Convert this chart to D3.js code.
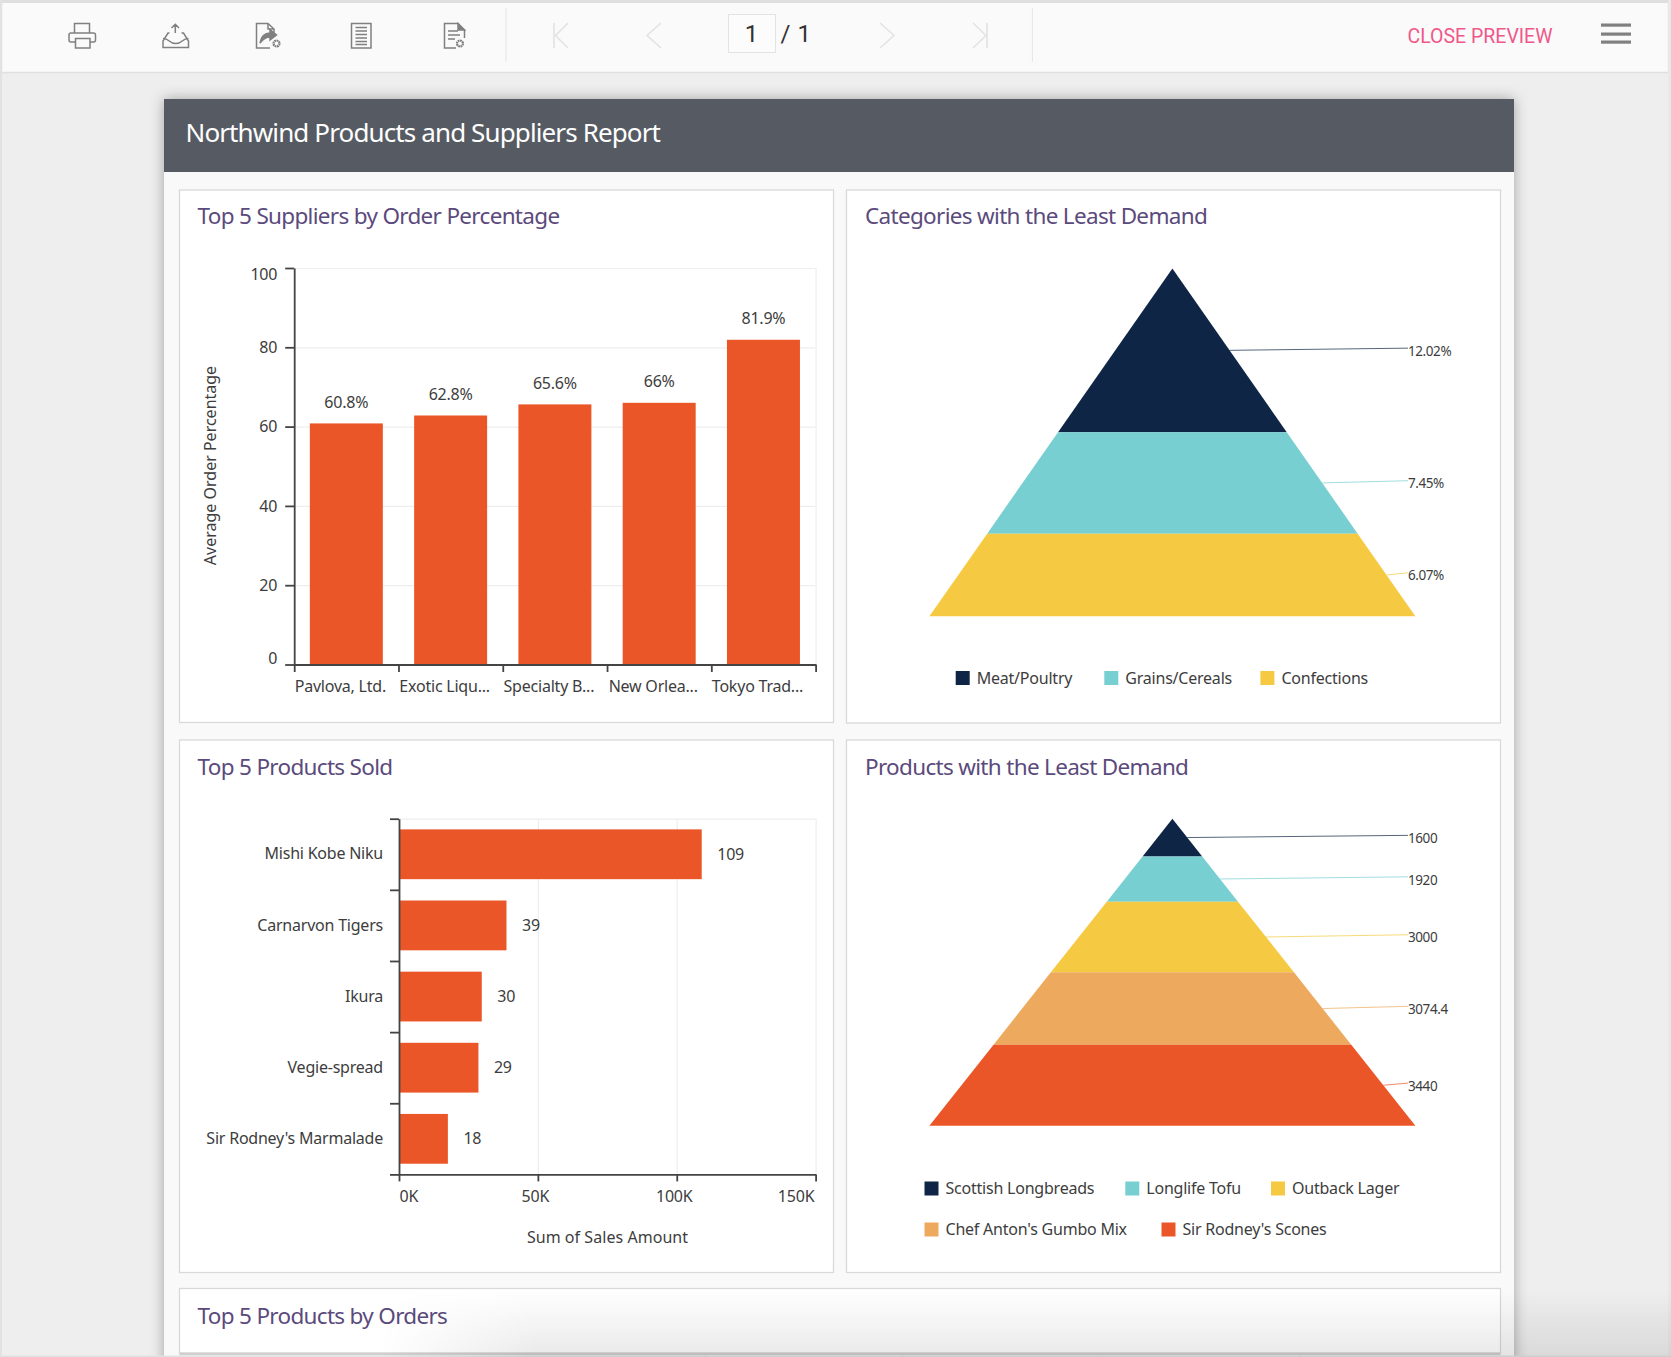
<!DOCTYPE html>
<html><head><meta charset="utf-8">
<script src="https://cdnjs.cloudflare.com/ajax/libs/d3/7.8.5/d3.min.js"></script>
<style>
html,body{margin:0;padding:0;background:#eeeeee;overflow:hidden}
svg{display:block}
text{font-family:"Noto Sans","Open Sans",sans-serif;fill:#3d3d3d}
.axis text{font-size:16px;letter-spacing:-.22px;fill:#3d3d3d}
.lbl{font-size:16px;letter-spacing:-.22px}
.ptitle{font-size:22.5px;letter-spacing:-.68px;fill:#5b4a7c}
.plabel{font-size:13.5px;letter-spacing:-.42px}
</style></head><body>
<svg id="c" width="1671" height="1357"></svg>
<script>
// ---- data ----
const supplierNames = ["Pavlova, Ltd.","Exotic Liqu...","Specialty B...","New Orlea...","Tokyo Trad..."];
const supplierPct = [60.8,62.8,65.6,66,81.9];
const pctTicks = [0,20,40,60,80,100];
const categoryNames = ["Meat/Poultry","Grains/Cereals","Confections"];
const categoryPct = [12.02,7.45,6.07];
const productNames = ["Mishi Kobe Niku","Carnarvon Tigers","Ikura","Vegie-spread","Sir Rodney's Marmalade"];
const productSales = [109000,38700,29800,28600,17600];
const salesTicks = [0,50000,100000,150000];
const leastNames = ["Scottish Longbreads","Longlife Tofu","Outback Lager","Chef Anton's Gumbo Mix","Sir Rodney's Scones"];
const leastValues = [1600,1920,3000,3074.4,3440];

// ---- styles ----
const palette = ["#0f2546","#77cfd1","#f5ca42","#edaa5e","#eb5628"];
const barColor = "#eb5628", axisColor = "#444", gridColor = "#eeeeee";

const svg = d3.select("#c");
const defs = svg.append("defs");
const sh = defs.append("filter").attr("id","sh").attr("x","-5%").attr("y","-5%").attr("width","110%").attr("height","110%");
sh.append("feDropShadow").attr("dx",0).attr("dy",0).attr("stdDeviation",7).attr("flood-color","#000").attr("flood-opacity",.32);

// window chrome
svg.append("rect").attr("width",1671).attr("height",1357).attr("fill","#eeeeee");
// report page
svg.append("rect").attr("x",164).attr("y",99).attr("width",1350).attr("height",1300).attr("fill","#f9f9f9").attr("filter","url(#sh)");
svg.append("rect").attr("x",164).attr("y",99).attr("width",1350).attr("height",73).attr("fill","#565b63");
svg.append("text").attr("x",185.5).attr("y",142).attr("font-size",26).attr("letter-spacing","-.88px").style("fill","#fff").text("Northwind Products and Suppliers Report");

// toolbar
svg.append("rect").attr("x",1.5).attr("y",2).attr("width",1667).attr("height",70.5).attr("fill","#fafafa").attr("stroke","#e0e0e0").attr("stroke-width",1.5);
svg.append("rect").attr("width",1671).attr("height",3).attr("fill","#dedede");
svg.append("rect").attr("width",2).attr("height",1357).attr("fill","#e2e2e2");
svg.append("rect").attr("x",1668).attr("width",3).attr("height",1357).attr("fill","#e8e8e8");
svg.append("rect").attr("y",1355.5).attr("width",1671).attr("height",1.5).attr("fill","#e2e2e2");
[[506,8,62],[1032.4,8,62]].forEach(s=>svg.append("line").attr("x1",s[0]).attr("x2",s[0]).attr("y1",s[1]).attr("y2",s[2]).attr("stroke","#e6e6e6"));
const ic = svg.append("g").attr("fill","none").attr("stroke","#808080").attr("stroke-width",1.5);
const icons = [
 "M74.5 33V23.5H89.5V33M75.5 42H71A2 2 0 0 1 69 40V35A2 2 0 0 1 71 33H93.5A2 2 0 0 1 95.5 35V40A2 2 0 0 1 93.5 42H90M75.5 38.5H90V48H75.5Z",
 "M175.3 33V24.5M171.5 28L175.3 24.3L179 28M169.5 33H168L163 41V47.5H188.5V41L183.5 33H181.5M163 38.5C170 38.5 168.5 43.5 175.8 43.5C183 43.5 181.5 38.5 188.5 38.5",
 "M274 36V29L268 23.5H256.5V48H270M268 23.5V29H274",
 "M351.5 23.5H371V48H351.5ZM355.5 27.5H367M355.5 31H367M355.5 34.5H367M355.5 38H367M355.5 41.5H367M355.5 44.5H367",
 "M456 48H444.5V23.5H458L464.5 30V38M448 31H458M448 35H460M448 39H455"
];
icons.forEach(d=>ic.append("path").attr("d",d));
ic.append("path").attr("d","M260 43C261 37 264 33 270 33V29.5L276.5 35L270 40V37C266 37 263 39 260 43Z").attr("fill","#808080");
[[276.5,43.5],[460,43.5]].forEach(p=>{
  ic.append("circle").attr("cx",p[0]).attr("cy",p[1]).attr("r",3).attr("stroke-width",2.2).attr("stroke-dasharray","1.8 .5");
  ic.append("circle").attr("cx",p[0]).attr("cy",p[1]).attr("r",1).attr("stroke","#fafafa").attr("stroke-width",1);
});
ic.append("path").attr("d","M458 23.5V30H464.5Z").attr("fill","#808080");
const nav = svg.append("g").attr("fill","none").attr("stroke","#e3e3e3").attr("stroke-width",1.6);
["M554 23V48M568 23L555.5 35.5L568 48","M661 23L647 35.5L661 48","M880 23L894 35.5L880 48","M973 23L986 35.5L973 48M987 23V48"].forEach(d=>nav.append("path").attr("d",d));
svg.append("rect").attr("x",728.5).attr("y",14.5).attr("width",47).attr("height",38).attr("fill","#fcfcfc").attr("stroke","#e3e3e3");
svg.append("text").attr("x",751.5).attr("y",41.5).attr("text-anchor","middle").attr("font-size",24).style("font-family","Roboto").style("fill","#333").text("1");
svg.append("text").attr("x",780.5).attr("y",41.5).attr("font-size",24).attr("letter-spacing",".6px").style("font-family","Roboto").style("fill","#333").text("/ 1");
svg.append("text").attr("x",1407.5).attr("y",43).attr("font-size",19.5).style("font-family","Roboto").style("fill","#f0588a").text("CLOSE PREVIEW");
[23.5,32.5,40.5].forEach(y=>svg.append("rect").attr("x",1601).attr("y",y).attr("width",30).attr("height",3.2).attr("fill","#808080"));

// panels
const panels = [
 {x:179.5,y:190,w:654,h:532.5,t:"Top 5 Suppliers by Order Percentage",tx:197.5,ty:224},
 {x:846.5,y:190,w:654,h:533,t:"Categories with the Least Demand",tx:865,ty:224},
 {x:179.5,y:740,w:654,h:532.5,t:"Top 5 Products Sold",tx:197.5,ty:775},
 {x:846.5,y:740,w:654,h:532.5,t:"Products with the Least Demand",tx:865,ty:775},
 {x:179.5,y:1288.5,w:1321,h:64.5,t:"Top 5 Products by Orders",tx:197.5,ty:1324}
];
panels.forEach(p=>{
  svg.append("rect").attr("x",p.x).attr("y",p.y).attr("width",p.w).attr("height",p.h).attr("fill","#fff").attr("stroke","#d9d9d9").attr("stroke-width",1.3);
  svg.append("text").attr("class","ptitle").attr("x",p.tx).attr("y",p.ty).text(p.t);
});
// table header strip at the cut-off edge
svg.append("rect").attr("x",179.5).attr("y",1352.7).attr("width",1321).attr("height",2.5).attr("fill","#cfcfcf");
[410,705,903,1102,1300].forEach(x=>svg.append("line").attr("x1",x).attr("x2",x).attr("y1",1355).attr("y2",1357).attr("stroke","#ddd"));
// soft bottom shading of the screenshot
const lg = defs.append("linearGradient").attr("id","fadeV").attr("x1",0).attr("x2",0).attr("y1",0).attr("y2",1);
lg.append("stop").attr("offset",0).attr("stop-color","#000").attr("stop-opacity",0);
lg.append("stop").attr("offset",1).attr("stop-color","#000").attr("stop-opacity",.085);
const lh = defs.append("linearGradient").attr("id","fadeH");
lh.append("stop").attr("offset",0).attr("stop-color","#000");
lh.append("stop").attr("offset",.12).attr("stop-color","#fff");
lh.append("stop").attr("offset",1).attr("stop-color","#fff");
defs.append("mask").attr("id","mk").attr("maskUnits","userSpaceOnUse").attr("x",0).attr("y",0).attr("width",1671).attr("height",1357)
  .append("rect").attr("x",380).attr("y",1290).attr("width",1291).attr("height",67).attr("fill","url(#fadeH)");
svg.append("rect").attr("x",380).attr("y",1290).attr("width",1291).attr("height",67).attr("fill","url(#fadeV)").attr("mask","url(#mk)");

function styleAxis(g){
  g.attr("class","axis");
  g.selectAll(".domain").attr("stroke",axisColor).attr("stroke-width",1.8);
  g.selectAll(".tick line").attr("stroke",axisColor).attr("stroke-width",1.8);
}
function grid(g){
  g.selectAll(".domain").remove();
  g.selectAll(".tick line").attr("stroke",gridColor).attr("stroke-width",1.2);
  g.selectAll("text").remove();
}

// ---- chart 1: vertical bars ----
(function(){
  const L=294.2,R=815.6,T=268,B=664.5;
  const y=d3.scaleLinear().domain([0,100]).range([B,T]);
  const x=d3.scaleBand().domain(supplierNames).range([L,R]).paddingInner(.3).paddingOuter(.15);
  const edge=d3.scaleLinear().domain([0,5]).range([L,R]);
  svg.append("g").attr("transform",`translate(${L},0)`).call(d3.axisLeft(y).tickValues(pctTicks).tickSize(L-R).tickFormat("")).call(grid);
  svg.append("g").attr("transform",`translate(0,${T})`).call(d3.axisBottom(edge).tickValues([5]).tickSize(B-T).tickFormat("")).call(g=>{g.selectAll(".domain").remove();g.selectAll(".tick line").attr("stroke",gridColor).attr("stroke-width",1.2);});
  svg.append("g").selectAll("rect").data(supplierPct).join("rect")
    .attr("x",(d,i)=>x(supplierNames[i])).attr("width",x.bandwidth()).attr("y",d=>y(d)).attr("height",d=>B-y(d)).attr("fill",barColor);
  svg.append("g").selectAll("text").data(supplierPct).join("text").attr("class","lbl").attr("text-anchor","middle")
    .attr("x",(d,i)=>x(supplierNames[i])+x.bandwidth()/2).attr("y",d=>y(d)-15.5).text(d=>d+"%");
  svg.append("g").attr("transform",`translate(${L},0)`).call(d3.axisLeft(y).tickValues(pctTicks).tickSize(9).tickSizeOuter(0).tickPadding(8)).call(styleAxis)
    .call(g=>g.selectAll(".tick text").attr("dy",d=>d===100?"0.72em":d===0?"-0.05em":"0.33em"));
  svg.append("g").attr("transform",`translate(0,${B})`).call(d3.axisBottom(edge).tickValues(d3.range(6)).tickSize(7.5).tickSizeOuter(0).tickFormat("")).call(styleAxis);
  svg.append("g").attr("transform",`translate(0,${B})`).call(d3.axisBottom(x).tickSize(0).tickPadding(16)).call(styleAxis)
    .call(g=>{g.select(".domain").remove();g.selectAll(".tick text").attr("dx",-6);});
  svg.append("text").attr("class","lbl").attr("text-anchor","middle").attr("transform","translate(216,465.5) rotate(-90)").style("letter-spacing","0").style("font-size","16px").text("Average Order Percentage");
})();

// ---- chart 3: horizontal bars ----
(function(){
  const L=399,R=815.6,T=818.7,B=1174.4;
  const x=d3.scaleLinear().domain([0,150000]).range([L,R]);
  const y=d3.scaleBand().domain(productNames).range([T,B]).paddingInner(.3).paddingOuter(.15);
  const edge=d3.scaleLinear().domain([0,5]).range([T,B]);
  svg.append("g").attr("transform",`translate(0,${T})`).call(d3.axisBottom(x).tickValues(salesTicks).tickSize(B-T).tickFormat("")).call(grid);
  svg.append("g").attr("transform",`translate(${L},0)`).call(d3.axisRight(edge).tickValues([0]).tickSize(R-L).tickFormat("")).call(grid);
  svg.append("g").selectAll("rect").data(productSales).join("rect")
    .attr("x",L).attr("y",(d,i)=>y(productNames[i])).attr("height",y.bandwidth()).attr("width",d=>x(d)-L).attr("fill",barColor);
  svg.append("g").selectAll("text").data(productSales).join("text").attr("class","lbl")
    .attr("x",d=>x(d)+15.5).attr("y",(d,i)=>y(productNames[i])+y.bandwidth()/2+5.5).text(d=>Math.round(d/1000));
  svg.append("g").attr("transform",`translate(${L},0)`).call(d3.axisLeft(edge).tickValues(d3.range(6)).tickSize(9).tickSizeOuter(0).tickFormat("")).call(styleAxis);
  svg.append("g").attr("transform",`translate(${L},0)`).call(d3.axisLeft(y).tickSize(0).tickPadding(16)).call(styleAxis).call(g=>g.select(".domain").remove());
  svg.append("g").attr("transform",`translate(0,${B})`).call(d3.axisBottom(x).tickValues(salesTicks).tickFormat(d=>d/1000+"K").tickSize(7).tickSizeOuter(0).tickPadding(9)).call(styleAxis)
    .call(g=>g.selectAll(".tick text").attr("text-anchor",d=>d===0?"start":"middle").attr("dx",d=>d===0?0:d===150000?-20:-3));
  svg.append("text").attr("class","lbl").attr("text-anchor","middle").attr("x",607.5).attr("y",1242.5).style("letter-spacing","0.05px").text("Sum of Sales Amount");
})();

// ---- pyramids ----
function pyramid(values,names,fmt,T,B,cx,halfW,legendPos){
  const total=d3.sum(values);
  const y=d3.scaleLinear().domain([0,total]).range([T,B]);
  const hw=d3.scaleLinear().domain([T,B]).range([0,halfW]);
  let cum=0;
  const segs=values.map((v,i)=>{const s={v,i,a:y(cum),b:y(cum+v)};cum+=v;return s;});
  const line=d3.line();
  svg.append("g").selectAll("path").data(segs).join("path").attr("fill",d=>palette[d.i])
    .attr("d",d=>line([[cx-hw(d.a),d.a],[cx+hw(d.a),d.a],[cx+hw(d.b),d.b],[cx-hw(d.b),d.b]])+"Z");
  const labelX=1408;
  svg.append("g").selectAll("line").data(segs).join("line").attr("stroke",d=>palette[d.i]).attr("stroke-opacity",.7).attr("stroke-width",1)
    .attr("x1",d=>cx+hw((d.a+d.b)/2)).attr("y1",d=>(d.a+d.b)/2).attr("x2",labelX).attr("y2",d=>(d.a+d.b)/2-2.2);
  svg.append("g").selectAll("text").data(segs).join("text").attr("class","plabel").attr("x",labelX)
    .attr("y",d=>(d.a+d.b)/2+5.5).text(d=>fmt(d.v));
  const lg=svg.append("g");
  names.forEach((n,i)=>{
    const p=legendPos[i];
    lg.append("rect").attr("x",p[0]).attr("y",p[1]-7).attr("width",14).attr("height",14).attr("fill",palette[i]);
    lg.append("text").attr("class","lbl").attr("x",p[0]+21).attr("y",p[1]+5.5).text(n);
  });
}
pyramid(categoryPct,categoryNames,d=>d+"%",268.5,616.3,1172.4,243,[[955.7,678],[1104.3,678],[1260.4,678]]);
pyramid(leastValues,leastNames,d=>d,818.7,1125.8,1172.4,243,[[924.5,1188.5],[1125.3,1188.5],[1271,1188.5],[924.5,1229.5],[1161.5,1229.5]]);
</script>
</body></html>
